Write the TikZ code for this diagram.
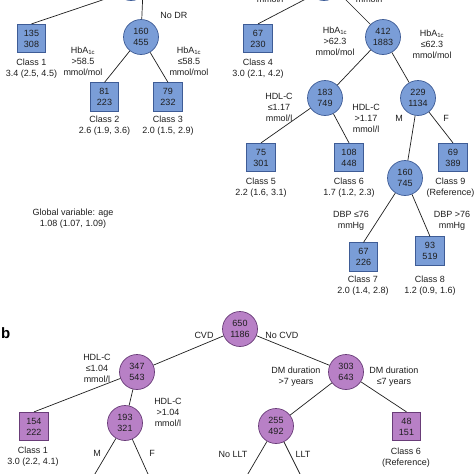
\documentclass[tikz,border=0pt]{standalone}
\usepackage{fontspec}
\setmainfont{Liberation Sans}
\definecolor{bfill}{RGB}{122,157,215}
\definecolor{bline}{RGB}{62,92,150}
\definecolor{pfill}{RGB}{184,128,198}
\definecolor{pline}{RGB}{105,60,120}
\definecolor{txt}{RGB}{30,30,30}
\definecolor{eline}{RGB}{30,30,30}
\tikzset{
  every node/.style={font=\fontsize{9}{11}\selectfont, text=txt},
  bcirc/.style={circle, draw=bline, fill=bfill, minimum size=35pt, inner sep=0pt, align=center, line width=0.7pt},
  bsq/.style={rectangle, draw=bline, fill=bfill, minimum size=28.5pt, inner sep=0pt, align=center, line width=0.7pt},
  pcirc/.style={circle, draw=pline, fill=pfill, minimum size=35pt, inner sep=0pt, align=center, line width=0.7pt},
  psq/.style={rectangle, draw=pline, fill=pfill, minimum size=28.5pt, inner sep=0pt, align=center, line width=0.7pt},
  lbl/.style={align=center, inner sep=0pt},
  edge/.style={draw=eline, line width=0.7pt}
}
\begin{document}
\begin{tikzpicture}[x=1pt,y=-1pt]
\useasboundingbox (0,0) rectangle (474,474);
\clip (0,0) rectangle (474,474);
% ---------- panel a, left tree ----------
\node[bcirc] (aroot) at (131,-17) {};
\coordinate (atopA) at (132,-10);
\coordinate (atopB) at (143,-10);
\node[bsq] (a1) at (31.5,38.5) {135\\308};
\node[bcirc] (c160) at (141,37) {160\\455};
\node[bsq] (a2) at (104.5,97) {81\\223};
\node[bsq] (a3) at (168,97) {79\\232};
\draw[edge] (a1.north) -- (atopA);
\draw[edge] (c160) -- (atopB);
\draw[edge] (c160) -- (a2.north);
\draw[edge] (c160) -- (a3.north);
\node[lbl] (l1) at (31.5,69) {Class 1\\3.4 (2.5, 4.5)};
\node[lbl] (l2) at (104.5,126) {Class 2\\2.6 (1.9, 3.6)};
\node[lbl] (l3) at (168,126) {Class 3\\2.0 (1.5, 2.9)};
\node[lbl] (s1) at (83,61) {HbA\textsubscript{1c}\\>58.5\\mmol/mol};
\node[lbl] (s2) at (189,61) {HbA\textsubscript{1c}\\≤58.5\\mmol/mol};
\node[lbl] (nodr) at (174,15) {No DR};
\node[lbl] (glob) at (73,218.5) {Global variable: age\\1.08 (1.07, 1.09)};
% ---------- panel a, right tree ----------
\node[lbl, anchor=base] (mm1) at (270,2) {mmol/l};
\node[lbl, anchor=base] (mm2) at (369,2) {mmol/l};
\node[bcirc] (broot) at (324,-17) {};
\coordinate (btopA) at (323,-10);
\coordinate (btopB) at (336,-10);
\node[bsq] (a4) at (258,38.5) {67\\230};
\node[bcirc] (c412) at (383,37) {412\\1883};
\draw[edge] (a4.north) -- (btopA);
\draw[edge] (c412) -- (btopB);
\node[lbl] (l4) at (258,69) {Class 4\\3.0 (2.1, 4.2)};
\node[lbl] (s3) at (335,41) {HbA\textsubscript{1c}\\>62.3\\mmol/mol};
\node[lbl] (s4) at (432,44) {HbA\textsubscript{1c}\\≤62.3\\mmol/mol};
\node[bcirc] (c183) at (325,98) {183\\749};
\node[bcirc] (c229) at (418,98) {229\\1134};
\draw[edge] (c412) -- (c183);
\draw[edge] (c412) -- (c229);
\node[lbl] (s5) at (279,107) {HDL-C\\≤1.17\\mmol/l};
\node[lbl] (s6) at (366,118) {HDL-C\\>1.17\\mmol/l};
\node[bsq] (a5) at (261,157.5) {75\\301};
\node[bsq] (a6) at (349,157.5) {108\\448};
\node[bsq] (a9) at (453,157.5) {69\\389};
\draw[edge] (c183) -- (a5.north);
\draw[edge] (c183) -- (a6.north);
\node[lbl] (l9) at (450.5,187.5) {Class 9\\(Reference)};
\node[lbl] (l5) at (261,187.5) {Class 5\\2.2 (1.6, 3.1)};
\node[lbl] (l6) at (349,187.5) {Class 6\\1.7 (1.2, 2.3)};
\node[lbl] (sm) at (399,118) {M};
\node[lbl] (sf) at (446,118) {F};
\node[bcirc] (c160b) at (405,178) {160\\745};
\draw[edge] (c229) -- (c160b);
\draw[edge] (c229) -- (a9.north);
\node[lbl] (s7) at (351,220.5) {DBP ≤76\\mmHg};
\node[lbl] (s8) at (452,220.5) {DBP >76\\mmHg};
\node[bsq] (a7) at (363.5,257) {67\\226};
\node[bsq] (a8) at (430,251) {93\\519};
\draw[edge] (c160b) -- (a7.north);
\draw[edge] (c160b) -- (a8.north);
\node[lbl] (l7) at (363,285.5) {Class 7\\2.0 (1.4, 2.8)};
\node[lbl] (l8) at (430,285.5) {Class 8\\1.2 (0.9, 1.6)};
% ---------- panel b ----------
\node[lbl, anchor=base west, font=\fontsize{15}{15}\selectfont\bfseries, text=black] (blabel) at (1,338) {b};
\node[pcirc] (r650) at (240,329) {650\\1186};
\node[lbl] (cvd) at (204,335) {CVD};
\node[lbl] (ncvd) at (282,335) {No CVD};
\node[pcirc] (c347) at (137,372) {347\\543};
\node[pcirc] (c303) at (346,372) {303\\643};
\draw[edge] (r650) -- (c347);
\draw[edge] (r650) -- (c303);
\node[lbl] (t1) at (97,368) {HDL-C\\≤1.04\\mmol/l};
\node[lbl] (t2) at (168,412) {HDL-C\\>1.04\\mmol/l};
\node[psq] (b1) at (34,426.5) {154\\222};
\node[pcirc] (c193) at (125,423) {193\\321};
\draw[edge] (c347) -- (b1.north);
\draw[edge] (c347) -- (c193);
\node[lbl] (k1) at (33,456.5) {Class 1\\3.0 (2.2, 4.1)};
\node[lbl] (tm) at (97,453) {M};
\node[lbl] (tf) at (152,453) {F};
\coordinate (e1) at (89,484);
\coordinate (e2) at (152.5,484);
\draw[edge] (c193) -- (e1);
\draw[edge] (c193) -- (e2);
\node[lbl] (t3) at (296,376.5) {DM duration\\>7 years};
\node[lbl] (t4) at (394,377) {DM duration\\≤7 years};
\node[pcirc] (c255) at (276,426) {255\\492};
\node[psq] (b6) at (406.5,426.5) {48\\151};
\draw[edge] (c303) -- (c255);
\draw[edge] (c303) -- (b6.north);
\node[lbl] (k6) at (406,457.5) {Class 6\\(Reference)};
\node[lbl] (tn) at (233,454) {No LLT};
\node[lbl] (ty) at (303,454) {LLT};
\coordinate (e3) at (242,484);
\coordinate (e4) at (305,484);
\draw[edge] (c255) -- (e3);
\draw[edge] (c255) -- (e4);
\end{tikzpicture}
\end{document}
